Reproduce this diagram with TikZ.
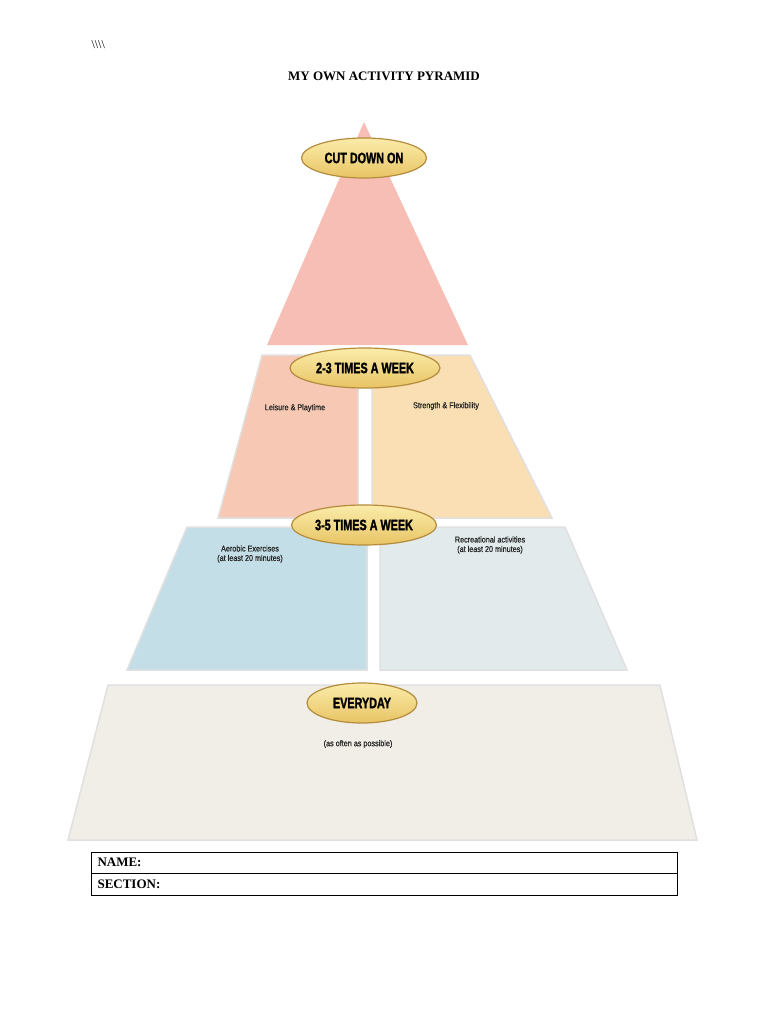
\documentclass[tikz,border=0pt]{standalone}
\usepackage{fontspec}
\usetikzlibrary{shapes.geometric}
\setmainfont{Liberation Serif}
\newfontfamily\labfont{Liberation Sans}[FakeStretch=0.72,FakeBold=1.5]
\newfontfamily\smallfont{Liberation Sans}[FakeStretch=0.85,FakeBold=0.6]
\begin{document}
\begin{tikzpicture}[x=1pt,y=-1pt,
  tier/.style={draw=black!12, line width=1.5pt},
  oval/.style={ellipse, draw=ovd, line width=1.2pt, top color=ovt, bottom color=ovb, minimum width=#1, minimum height=40, inner sep=0pt, font=\labfont\fontsize{15}{16}\selectfont\bfseries},
  note/.style={font=\smallfont\fontsize{8.5}{9.5}\selectfont, align=center, text=black!85}]
\useasboundingbox (0,0) rectangle (768,1024);
\definecolor{pk}{RGB}{246,190,180}
\definecolor{pk2}{RGB}{247,200,180}
\definecolor{yl}{RGB}{250,222,180}
\definecolor{bl}{RGB}{196,222,232}
\definecolor{gb}{RGB}{226,234,236}
\definecolor{bg}{RGB}{240,238,230}
\definecolor{ovt}{RGB}{250,236,170}
\definecolor{ovb}{RGB}{232,196,100}
\definecolor{ovd}{RGB}{180,140,60}
\node[anchor=west, font=\fontsize{12}{13}\selectfont] (bs) at (88,45) {\textbackslash\textbackslash\textbackslash\textbackslash};
\node[font=\fontsize{13}{14}\selectfont\bfseries] (title) at (384,76) {MY OWN ACTIVITY PYRAMID};
\fill[pk] (267,345) -- (364,122) -- (468,345) -- cycle;
\draw[tier, fill=pk2] (262,355) -- (358,355) -- (358,518) -- (218,518) -- cycle;
\draw[tier, fill=yl] (372,355) -- (470,355) -- (552,518) -- (372,518) -- cycle;
\draw[tier, fill=bl] (187,527) -- (367,527) -- (367,670) -- (127,670) -- cycle;
\draw[tier, fill=gb] (380,527) -- (565,527) -- (627,670) -- (380,670) -- cycle;
\draw[tier, fill=bg] (108,685) -- (660,685) -- (697,840) -- (68,840) -- cycle;
\node[oval=125] (cut) at (364,158) {CUT DOWN ON};
\node[oval=150] (t23) at (365,368) {2-3 TIMES A WEEK};
\node[oval=145] (t35) at (364,525) {3-5 TIMES A WEEK};
\node[oval=110] (ev) at (362,703) {EVERYDAY};
\node[note] (lp) at (295,408) {Leisure \& Playtime};
\node[note] (sf) at (446,406) {Strength \& Flexibility};
\node[note] (ae) at (250,554) {Aerobic Exercises\\(at least 20 minutes)};
\node[note] (ra) at (490,545) {Recreational activities\\(at least 20 minutes)};
\node[note] (oft) at (358,744) {(as often as possible)};
\draw[line width=0.6pt] (91,852) rectangle (677,895);
\draw[line width=0.6pt] (91,873) -- (677,873);
\node[anchor=west, font=\fontsize{13}{14}\selectfont\bfseries] (nm) at (94,862.5) {NAME:};
\node[anchor=west, font=\fontsize{13}{14}\selectfont\bfseries] (sc) at (94,884) {SECTION:};
\end{tikzpicture}
\end{document}
